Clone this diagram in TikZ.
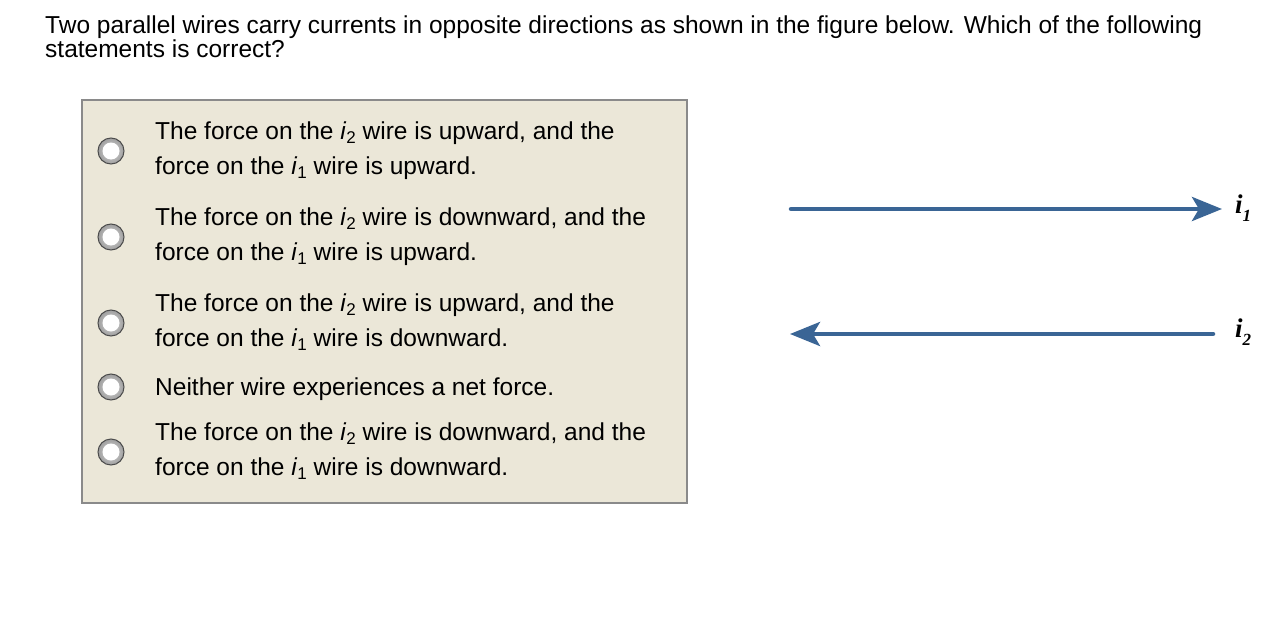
\documentclass[tikz,border=0pt]{standalone}
\usepackage{fontspec}
\setmainfont{Liberation Sans}
\newfontfamily\wirefont{Liberation Serif}
\usetikzlibrary{arrows.meta}
\definecolor{boxfill}{RGB}{235,231,216}
\definecolor{boxline}{RGB}{138,138,138}
\definecolor{wireblue}{RGB}{58,101,149}
\newcommand{\cur}[1]{\textit{i}\raisebox{-0.35ex}{\fontsize{17}{17}\selectfont #1}}
\newcommand{\radio}[2] % {name}{y}
{
	\draw[gray!60!black, line width=1pt, inner color=gray!30, outer color=gray!75] (111,#2) circle [radius=13];
	\fill[white] (111,#2) circle [radius=8.5];
	\coordinate (#1) at (111,#2);
}
\tikzset{
	answer/.style={anchor=base west, inner sep=0pt, font=\fontsize{24.5}{24.5}\selectfont},
	wire/.style={wireblue, line width=4.5pt, line cap=round},
	wirelabel/.style={font=\wirefont\bfseries\itshape\fontsize{27}{27}\selectfont}
}
\begin{document}
\begin{tikzpicture}[x=1pt,y=-1pt]
	\useasboundingbox[fill=white] (0,0) rectangle (1288,626);

	% question
	\node[answer] (q1) at (45,34) {Two parallel wires carry currents in opposite directions as shown in the figure below. Which of the following};
	\node[answer] (q2) at (45,58) {statements is correct?};

	% answer box
	\draw[boxline, fill=boxfill, line width=2pt] (82,100) rectangle (687,503);
	\radio{r1}{151}
	\radio{r2}{237}
	\radio{r3}{323}
	\radio{r4}{387}
	\radio{r5}{452}

	\node[answer] (a1) at (155,139) {The force on the \cur{2} wire is upward, and the};
	\node[answer] (a1b) at (155,174) {force on the \cur{1} wire is upward.};
	\node[answer] (a2) at (155,225) {The force on the \cur{2} wire is downward, and the};
	\node[answer] (a2b) at (155,260) {force on the \cur{1} wire is upward.};
	\node[answer] (a3) at (155,311) {The force on the \cur{2} wire is upward, and the};
	\node[answer] (a3b) at (155,346) {force on the \cur{1} wire is downward.};
	\node[answer] (a4) at (155,395) {Neither wire experiences a net force.};
	\node[answer] (a5) at (155,440) {The force on the \cur{2} wire is downward, and the};
	\node[answer] (a5b) at (155,475) {force on the \cur{1} wire is downward.};

	% wires
	\coordinate (w1s) at (791,209);
	\coordinate (w1e) at (1222,209);
	\coordinate (w2s) at (1213,334);
	\coordinate (w2e) at (790,334);
	\draw[wire, -{Stealth[length=30pt,width=24pt,inset=7pt]}] (w1s) -- (w1e);
	\draw[wire, -{Stealth[length=30pt,width=24pt,inset=7pt]}] (w2s) -- (w2e);
	\node[wirelabel] (l1) at (1243,208) {i\raisebox{-0.6ex}{\wirefont\bfseries\fontsize{17}{17}\selectfont 1}};
	\node[wirelabel] (l2) at (1243,332) {i\raisebox{-0.6ex}{\wirefont\bfseries\fontsize{17}{17}\selectfont 2}};
\end{tikzpicture}
\end{document}
